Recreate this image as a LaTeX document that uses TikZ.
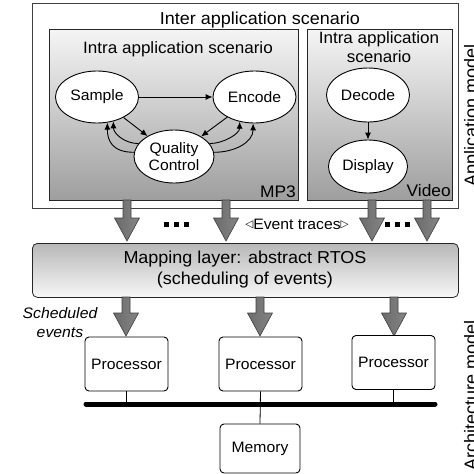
\documentclass[tikz,border=0pt]{standalone}
\usepackage{fontspec}
\setmainfont{Liberation Sans}[FakeStretch=1.04]
\newfontfamily\rotfont{Liberation Sans}
\newfontfamily\symfont{DejaVu Sans}
\usetikzlibrary{shapes.geometric,arrows.meta}
\newcommand\fsz[2]{\fontsize{#1}{#2}\selectfont}
\newcommand\fatarrow[3]{\shadedraw[fatarr] (#1-4,#2) -- (#1+4,#2) -- (#1+4,#3-23) -- (#1+12.5,#3-23) -- (#1,#3) -- (#1-12.5,#3-23) -- (#1-4,#3-23) -- cycle;}
\newcommand\dotsq{\rule{5pt}{5pt}\hspace{5pt}\rule{5pt}{5pt}\hspace{5pt}\rule{5pt}{5pt}}
\newcommand\ltri{\raisebox{1.5pt}{\symfont\fontsize{10.5}{11}\selectfont ◁}}
\newcommand\rtri{\raisebox{1.5pt}{\symfont\fontsize{10.5}{11}\selectfont ▷}}
\begin{document}
\begin{tikzpicture}[x=1pt,y=-1pt,
  every node/.style={inner sep=0pt},
  frame/.style={draw=black!75, line width=0.8pt, anchor=north west},
  scen/.style={draw=black!85, line width=0.8pt, anchor=north west, top color=black!4, bottom color=black!38},
  ell/.style={ellipse, draw, fill=white, line width=0.9pt, font=\fsz{15.1}{17.6}, align=center},
  proc/.style={draw, rounded corners=4pt, fill=white, line width=0.9pt, minimum width=83pt, minimum height=54pt, font=\fsz{15.1}{17}},
  arr/.style={line width=0.9pt, -{Latex[length=7pt,width=6pt]}},
  fatarr/.style={draw=black!75, line width=0.6pt, left color=black!58, middle color=black!18, right color=black!48},
  title/.style={font=\fsz{17.3}{21}},
  sub/.style={font=\fsz{16.4}{18.5}, align=center},
  lbl/.style={font=\fsz{16.7}{18}},
  txt/.style={font=\fsz{15.1}{17}},
  side/.style={font=\rotfont\fontsize{18}{20}\selectfont, rotate=90, anchor=base}
]
\useasboundingbox (0,0) rectangle (474,474);

% application model frames
\node[frame, minimum width=426pt, minimum height=205pt] (outer) at (32,3) {};
\node[title, anchor=base] (intert) at (260,24) {Inter application scenario};
\node[scen, minimum width=249pt, minimum height=171pt] (mp3box) at (49,29) {};
\node[scen, minimum width=145pt, minimum height=171pt] (vidbox) at (307,29) {};
\node[sub, anchor=base] (mp3t) at (178,53) {Intra application scenario};
\node[sub, anchor=north] (vidt) at (379,31.5) {Intra application\\scenario};
\node[lbl, anchor=base east] (mp3l) at (296,197) {MP3};
\node[lbl, anchor=base east] (vidl) at (451,196) {Video};

% MP3 tasks
\node[ell, minimum width=83pt, minimum height=52pt] (sample) at (97,97) {Sample};
\node[ell, minimum width=83pt, minimum height=52pt] (encode) at (254.5,97) {Encode};
\node[ell, minimum width=80pt, minimum height=53pt] (qc) at (174,156.5) {Quality\\Control};
\draw[arr] (sample) -- (encode);
\draw[arr] (sample) -- (qc);
\draw[arr] (encode) -- (qc);
\draw[arr] (qc.160) .. controls +(-14,0) and +(0,12) .. (sample.-56);
\draw[arr] (qc.174) .. controls +(-22,0) and +(0,18) .. (sample.-68);
\draw[arr] (qc.20) .. controls +(14,0) and +(0,12) .. (encode.-121);
\draw[arr] (qc.6) .. controls +(22,0) and +(0,18) .. (encode.-93);

% Video tasks
\node[ell, minimum width=83pt, minimum height=54pt] (decode) at (368,95) {Decode};
\node[ell, minimum width=79pt, minimum height=53pt] (display) at (368,166.5) {Display};
\draw[arr] (decode) -- (display);

% event traces
\fatarrow{127}{200}{241}
\fatarrow{226}{200}{241}
\fatarrow{372}{200}{241}
\fatarrow{427}{200}{241}
\node (dots1) at (176,224.5) {\dotsq};
\node (dots2) at (397,224.5) {\dotsq};
\node[txt, anchor=base] (evt) at (297,229) {\ltri Event traces\rtri};

% mapping layer
\node[anchor=north west, draw=black!85, line width=0.8pt, rounded corners=5pt, top color=black!28, bottom color=black!3, minimum width=426pt, minimum height=54pt] (map) at (32,243) {};
\node[title, align=center] (mapt) at (245,270) {Mapping layer: abstract RTOS\\(scheduling of events)};

\fatarrow{126}{297}{336}
\fatarrow{260}{297}{336}
\fatarrow{394}{297}{336}
\node[align=center, font=\fsz{15.2}{19}\itshape] (sched) at (60,323) {Scheduled\\events};

% architecture
\node[proc] (p1) at (126.5,364) {Processor};
\node[proc] (p2) at (260.5,364) {Processor};
\node[proc] (p3) at (393.5,362.5) {Processor};
\node[proc, minimum width=80pt, minimum height=49pt] (mem) at (260,448.5) {Memory};
\coordinate (busL) at (86,404);
\coordinate (busR) at (435,404);
\draw[line width=0.8pt] (p1.south) -- (p1.south |- busL);
\draw[line width=0.8pt] (p2.south) -- (mem.north);
\draw[line width=0.8pt] (p3.south) -- (p3.south |- busL);
\draw[line width=5pt, line cap=round] (busL) -- (busR);

% side labels
\node[side] (appm) at (477,115) {Application model};
\node[side] (archm) at (477,395) {Architecture model};
\end{tikzpicture}
\end{document}
